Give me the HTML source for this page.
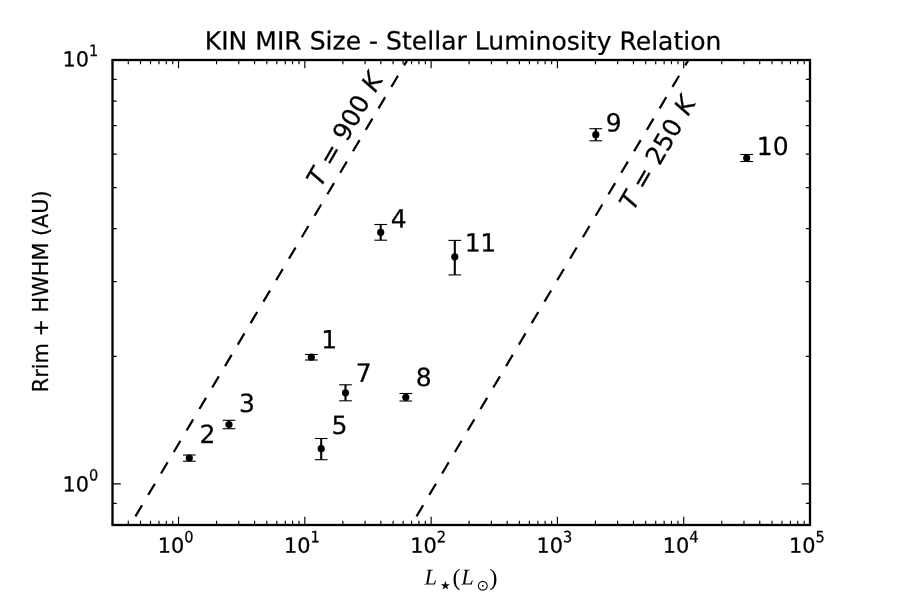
<!DOCTYPE html>
<html lang="en"><head><meta charset="utf-8"><title>KIN MIR Size - Stellar Luminosity Relation</title>
<style>html,body{margin:0;padding:0;background:#fff;}body{width:900px;height:600px;overflow:hidden;}svg{display:block;}text{font-family:"DejaVu Sans", "Liberation Sans", sans-serif;fill:#000;stroke:#000;stroke-width:0.25px;}</style></head><body>
<svg width="900" height="600" viewBox="0 0 900 600">
<rect x="0" y="0" width="900" height="600" fill="#fff"/>
<defs><clipPath id="ax"><rect x="112.50" y="60.00" width="697.50" height="465.00"/></clipPath></defs>
<g>
<line x1="135.40" y1="516.40" x2="419.26" y2="40.00" stroke="#000" stroke-width="2.20" stroke-dasharray="13 12" clip-path="url(#ax)"/>
<line x1="416.50" y1="516.40" x2="700.36" y2="40.00" stroke="#000" stroke-width="2.20" stroke-dasharray="13 12" clip-path="url(#ax)"/>
</g>
<g stroke="#000" fill="none">
<line x1="311.30" y1="354.50" x2="311.30" y2="360.00" stroke-width="2.08"/>
<line x1="304.95" y1="354.50" x2="317.65" y2="354.50" stroke-width="1.1"/>
<line x1="304.95" y1="360.00" x2="317.65" y2="360.00" stroke-width="1.1"/>
<line x1="189.30" y1="455.00" x2="189.30" y2="461.20" stroke-width="2.08"/>
<line x1="182.95" y1="455.00" x2="195.65" y2="455.00" stroke-width="1.1"/>
<line x1="182.95" y1="461.20" x2="195.65" y2="461.20" stroke-width="1.1"/>
<line x1="229.00" y1="420.30" x2="229.00" y2="428.70" stroke-width="2.08"/>
<line x1="222.65" y1="420.30" x2="235.35" y2="420.30" stroke-width="1.1"/>
<line x1="222.65" y1="428.70" x2="235.35" y2="428.70" stroke-width="1.1"/>
<line x1="380.70" y1="224.50" x2="380.70" y2="240.20" stroke-width="2.08"/>
<line x1="374.35" y1="224.50" x2="387.05" y2="224.50" stroke-width="1.1"/>
<line x1="374.35" y1="240.20" x2="387.05" y2="240.20" stroke-width="1.1"/>
<line x1="321.20" y1="438.50" x2="321.20" y2="459.70" stroke-width="2.08"/>
<line x1="314.85" y1="438.50" x2="327.55" y2="438.50" stroke-width="1.1"/>
<line x1="314.85" y1="459.70" x2="327.55" y2="459.70" stroke-width="1.1"/>
<line x1="345.50" y1="384.80" x2="345.50" y2="400.80" stroke-width="2.08"/>
<line x1="339.15" y1="384.80" x2="351.85" y2="384.80" stroke-width="1.1"/>
<line x1="339.15" y1="400.80" x2="351.85" y2="400.80" stroke-width="1.1"/>
<line x1="405.80" y1="393.50" x2="405.80" y2="401.00" stroke-width="2.08"/>
<line x1="399.45" y1="393.50" x2="412.15" y2="393.50" stroke-width="1.1"/>
<line x1="399.45" y1="401.00" x2="412.15" y2="401.00" stroke-width="1.1"/>
<line x1="595.80" y1="128.70" x2="595.80" y2="140.80" stroke-width="2.08"/>
<line x1="589.45" y1="128.70" x2="602.15" y2="128.70" stroke-width="1.1"/>
<line x1="589.45" y1="140.80" x2="602.15" y2="140.80" stroke-width="1.1"/>
<line x1="746.70" y1="154.50" x2="746.70" y2="161.50" stroke-width="2.08"/>
<line x1="740.35" y1="154.50" x2="753.05" y2="154.50" stroke-width="1.1"/>
<line x1="740.35" y1="161.50" x2="753.05" y2="161.50" stroke-width="1.1"/>
<line x1="454.80" y1="240.40" x2="454.80" y2="274.90" stroke-width="2.08"/>
<line x1="448.45" y1="240.40" x2="461.15" y2="240.40" stroke-width="1.1"/>
<line x1="448.45" y1="274.90" x2="461.15" y2="274.90" stroke-width="1.1"/>
</g>
<g fill="#000" stroke="none">
<circle cx="311.30" cy="357.20" r="3.6"/>
<circle cx="189.30" cy="458.00" r="3.6"/>
<circle cx="229.00" cy="424.50" r="3.6"/>
<circle cx="380.70" cy="232.30" r="3.6"/>
<circle cx="321.20" cy="448.70" r="3.6"/>
<circle cx="345.50" cy="392.80" r="3.6"/>
<circle cx="405.80" cy="397.30" r="3.6"/>
<circle cx="595.80" cy="134.70" r="3.6"/>
<circle cx="746.70" cy="158.00" r="3.6"/>
<circle cx="454.80" cy="256.80" r="3.6"/>
</g>
<g font-size="25.00">
<text transform="translate(321.35,348.30) rotate(0.03)">1</text>
<text transform="translate(199.38,442.90) rotate(0.03)">2</text>
<text transform="translate(239.00,411.90) rotate(0.03)">3</text>
<text transform="translate(390.87,227.60) rotate(0.03)">4</text>
<text transform="translate(331.47,434.00) rotate(0.03)">5</text>
<text transform="translate(355.85,381.70) rotate(0.03)">7</text>
<text transform="translate(415.70,386.10) rotate(0.03)">8</text>
<text transform="translate(605.72,131.60) rotate(0.03)">9</text>
<text transform="translate(756.85,154.90) rotate(0.03)">10</text>
<text transform="translate(464.75,251.40) rotate(0.03)" letter-spacing="-0.5">11</text>
</g>
<text font-size="25" transform="translate(320.80,188.00) rotate(-60.00)"><tspan font-style="italic">T</tspan> = 900 <tspan font-style="italic" dx="1.6">K</tspan></text>
<text font-size="25" transform="translate(633.50,211.60) rotate(-60.00)"><tspan font-style="italic">T</tspan> = 250 <tspan font-style="italic" dx="1.8">K</tspan></text>
<rect x="112.50" y="60.00" width="697.50" height="465.00" fill="none" stroke="#000" stroke-width="2.3"/>
<path d="M112.50 525.00v-4.17M112.50 60.00v4.17M128.28 525.00v-4.17M128.28 60.00v4.17M140.52 525.00v-4.17M140.52 60.00v4.17M150.52 525.00v-4.17M150.52 60.00v4.17M158.97 525.00v-4.17M158.97 60.00v4.17M166.30 525.00v-4.17M166.30 60.00v4.17M172.76 525.00v-4.17M172.76 60.00v4.17M178.54 525.00v-8.33M178.54 60.00v8.33M216.55 525.00v-4.17M216.55 60.00v4.17M238.79 525.00v-4.17M238.79 60.00v4.17M254.57 525.00v-4.17M254.57 60.00v4.17M266.81 525.00v-4.17M266.81 60.00v4.17M276.81 525.00v-4.17M276.81 60.00v4.17M285.27 525.00v-4.17M285.27 60.00v4.17M292.59 525.00v-4.17M292.59 60.00v4.17M299.05 525.00v-4.17M299.05 60.00v4.17M304.83 525.00v-8.33M304.83 60.00v8.33M342.85 525.00v-4.17M342.85 60.00v4.17M365.09 525.00v-4.17M365.09 60.00v4.17M380.86 525.00v-4.17M380.86 60.00v4.17M393.10 525.00v-4.17M393.10 60.00v4.17M403.10 525.00v-4.17M403.10 60.00v4.17M411.56 525.00v-4.17M411.56 60.00v4.17M418.88 525.00v-4.17M418.88 60.00v4.17M425.34 525.00v-4.17M425.34 60.00v4.17M431.12 525.00v-8.33M431.12 60.00v8.33M469.14 525.00v-4.17M469.14 60.00v4.17M491.38 525.00v-4.17M491.38 60.00v4.17M507.16 525.00v-4.17M507.16 60.00v4.17M519.40 525.00v-4.17M519.40 60.00v4.17M529.40 525.00v-4.17M529.40 60.00v4.17M537.85 525.00v-4.17M537.85 60.00v4.17M545.18 525.00v-4.17M545.18 60.00v4.17M551.64 525.00v-4.17M551.64 60.00v4.17M557.41 525.00v-8.33M557.41 60.00v8.33M595.43 525.00v-4.17M595.43 60.00v4.17M617.67 525.00v-4.17M617.67 60.00v4.17M633.45 525.00v-4.17M633.45 60.00v4.17M645.69 525.00v-4.17M645.69 60.00v4.17M655.69 525.00v-4.17M655.69 60.00v4.17M664.14 525.00v-4.17M664.14 60.00v4.17M671.47 525.00v-4.17M671.47 60.00v4.17M677.93 525.00v-4.17M677.93 60.00v4.17M683.71 525.00v-8.33M683.71 60.00v8.33M721.73 525.00v-4.17M721.73 60.00v4.17M743.96 525.00v-4.17M743.96 60.00v4.17M759.74 525.00v-4.17M759.74 60.00v4.17M771.98 525.00v-4.17M771.98 60.00v4.17M781.98 525.00v-4.17M781.98 60.00v4.17M790.44 525.00v-4.17M790.44 60.00v4.17M797.76 525.00v-4.17M797.76 60.00v4.17M804.22 525.00v-4.17M804.22 60.00v4.17M810.00 525.00v-8.33M810.00 60.00v8.33M112.50 525.00h4.17M810.00 525.00h-4.17M112.50 503.32h4.17M810.00 503.32h-4.17M112.50 483.92h8.33M810.00 483.92h-8.33M112.50 356.31h4.17M810.00 356.31h-4.17M112.50 281.66h4.17M810.00 281.66h-4.17M112.50 228.69h4.17M810.00 228.69h-4.17M112.50 187.61h4.17M810.00 187.61h-4.17M112.50 154.05h4.17M810.00 154.05h-4.17M112.50 125.67h4.17M810.00 125.67h-4.17M112.50 101.08h4.17M810.00 101.08h-4.17M112.50 79.40h4.17M810.00 79.40h-4.17M112.50 60.00h8.33M810.00 60.00h-8.33" stroke="#000" stroke-width="1.15" fill="none"/>
<g font-size="20.83">
<text transform="translate(157.64,552.70) rotate(0.03)">10</text>
<text font-size="14.58" transform="translate(184.14,542.20) rotate(0.03) scale(1,1.07)">0</text>
<text transform="translate(283.93,552.70) rotate(0.03)">10</text>
<text font-size="14.58" transform="translate(310.43,542.20) rotate(0.03) scale(1,1.07)">1</text>
<text transform="translate(410.22,552.70) rotate(0.03)">10</text>
<text font-size="14.58" transform="translate(436.73,542.20) rotate(0.03) scale(1,1.07)">2</text>
<text transform="translate(536.51,552.70) rotate(0.03)">10</text>
<text font-size="14.58" transform="translate(563.02,542.20) rotate(0.03) scale(1,1.07)">3</text>
<text transform="translate(662.81,552.70) rotate(0.03)">10</text>
<text font-size="14.58" transform="translate(689.31,542.20) rotate(0.03) scale(1,1.07)">4</text>
<text transform="translate(789.10,552.70) rotate(0.03)">10</text>
<text font-size="14.58" transform="translate(815.61,542.20) rotate(0.03) scale(1,1.07)">5</text>
<text transform="translate(62.50,491.42) rotate(0.03)">10</text>
<text font-size="14.58" transform="translate(89.01,480.52) rotate(0.03) scale(1,1.07)">0</text>
<text transform="translate(62.40,66.40) rotate(0.03)">10</text>
<text font-size="14.58" transform="translate(88.91,55.90) rotate(0.03) scale(1,1.07)">1</text>
</g>
<text transform="translate(463.1,49.6) rotate(0.03)" font-size="25" letter-spacing="0.03" text-anchor="middle">KIN MIR Size - Stellar Luminosity Relation</text>
<text font-size="20.83" text-anchor="middle" transform="translate(48,291.3) rotate(-90)">Rrim + HWHM (AU)</text>
<g font-family='"Liberation Serif", "DejaVu Serif", serif' style="stroke:none">
<text transform="translate(424.6,584.4) rotate(0.03)" font-size="22.5" font-style="italic" style="font-family:'Liberation Serif', 'DejaVu Serif', serif;stroke:none">L</text>
<text transform="translate(440,589.5) rotate(0.03)" font-size="12" style="font-family:'DejaVu Sans', 'Liberation Sans', sans-serif;stroke:none">★</text>
<text transform="translate(452.6,585.3) rotate(0.03)" font-size="23.8" style="font-family:'Liberation Serif', 'DejaVu Serif', serif;stroke:none">(</text>
<text transform="translate(461.2,584.4) rotate(0.03)" font-size="22.5" font-style="italic" style="font-family:'Liberation Serif', 'DejaVu Serif', serif;stroke:none">L</text>
<text transform="translate(476.5,590.6) rotate(0.03)" font-size="15" style="font-family:'DejaVu Sans', 'Liberation Sans', sans-serif;stroke:none">⊙</text>
<text transform="translate(489.6,585.3) rotate(0.03)" font-size="23.8" style="font-family:'Liberation Serif', 'DejaVu Serif', serif;stroke:none">)</text>
</g>
</svg></body></html>
